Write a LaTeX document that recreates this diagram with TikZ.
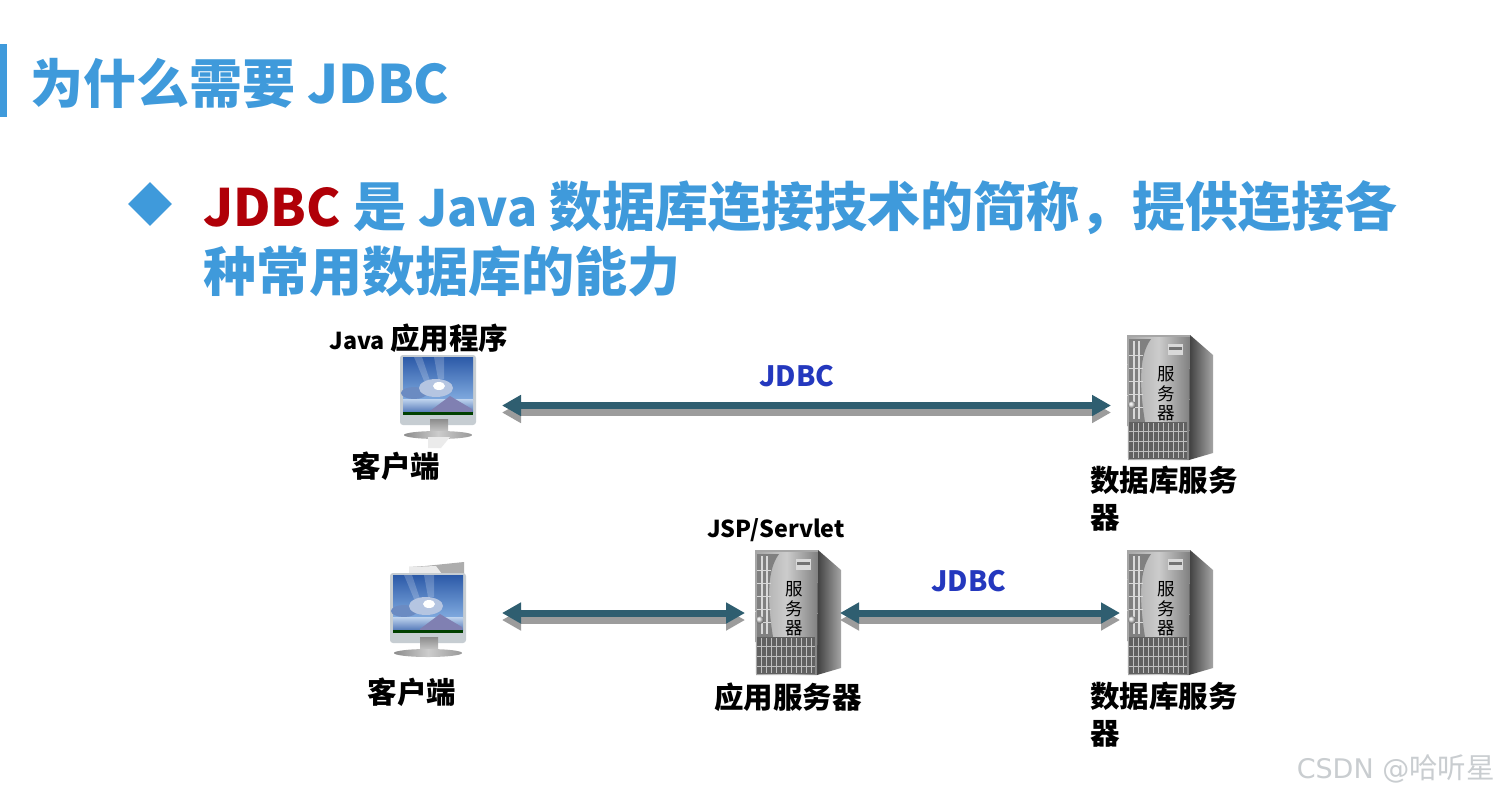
\documentclass[tikz,border=0pt]{standalone}
\usepackage{fontspec}
\setmainfont{Noto Sans CJK SC}
\newfontfamily\markfont{DejaVu Sans}
\usetikzlibrary{shapes.geometric, arrows.meta}
\definecolor{titleblue}{HTML}{3F9ADB}
\definecolor{jdbcred}{HTML}{B00008}
\definecolor{jdbcblue}{HTML}{2438BE}
\definecolor{arrowteal}{HTML}{2F5E70}
\definecolor{arrowgray}{HTML}{9C9C9C}
\definecolor{marksilver}{HTML}{C9CDD0}
\definecolor{skytop}{HTML}{2C5AA8}
\definecolor{skylow}{HTML}{7FA9DE}
\definecolor{framesilver}{HTML}{C6CDD2}
\newcommand{\bodylat}[2]{{\fontsize{#1}{65}\selectfont #2}}
\tikzstyle{title} = [anchor=west, inner sep=0, text=titleblue, font=\fontsize{53}{60}\selectfont\bfseries]
\tikzstyle{body} = [anchor=north west, inner sep=0, align=left, text=titleblue, font=\fontsize{53}{65}\selectfont\bfseries]
\tikzstyle{label} = [inner sep=0, text=black, font=\fontsize{29.5}{36.5}\selectfont\bfseries]
\tikzstyle{smalllabel} = [inner sep=0, text=black, font=\fontsize{23.3}{28}\selectfont\bfseries]
\tikzstyle{link} = [inner sep=0, text=jdbcblue, font=\fontsize{28}{34}\selectfont\bfseries]
\tikzstyle{device} = [rectangle, inner sep=0, outer sep=0]
\tikzstyle{arrow} = [line width=7pt, draw=arrowteal, {Triangle[length=19pt,width=20pt]}-{Triangle[length=19pt,width=20pt]}]
\tikzstyle{arrowshadow} = [line width=7pt, draw=arrowgray, {Triangle[length=19pt,width=20pt]}-{Triangle[length=19pt,width=20pt]}]
\tikzset{
  monitor/.pic={
    % origin is the top left corner of the frame
    \fill[rounded corners=3pt, framesilver] (0,0) rectangle (76,70);
    \shade[top color=black!45, bottom color=black!20] (30,64) rectangle (48,78);
    \shade[left color=black!45, right color=black!40, middle color=black!20] (4,80) arc (180:360:34 and 4) arc (0:180:34 and 4);
    \shade[top color=skytop, bottom color=skylow] (3,2) rectangle (73,44);
    \fill[white, opacity=.2] (14,2) -- (22,2) -- (30,26) -- (24,26) -- cycle;
    \fill[white, opacity=.2] (34,2) -- (44,2) -- (44,24) -- (38,24) -- cycle;
    \fill[skytop!70!white] (14,38) ellipse (13 and 6);
    \fill[skytop!35!white] (36,33) ellipse (17 and 9);
    \fill[white] (39,31) ellipse (6 and 4);
    \shade[top color=skylow!50!white, bottom color=skytop!80!white] (3,44) rectangle (73,57);
    \fill[black!60!blue!50] (30,56) -- (50,41) -- (72,54) -- (72,57) -- (30,57) -- cycle;
    \fill[black!75!green] (3,57) rectangle (73,60);
  },
  serverpic/.pic={
    % origin is the top left corner of the front
    \shade[left color=black!75, right color=black!35] (63,0) -- (86,20) -- (86,118) -- (62,125) -- cycle;
    \shade[left color=black!35, right color=black!50, middle color=black!20] (0,0) -- (63,0) -- (62,125) -- (1,125) -- cycle;
    \fill[black!35] (0,0) -- (63,0) -- (63,2) -- (0,2) -- cycle;
    \fill[black!50] (2,4) -- (24,4) .. controls (12,20) and (12,50) .. (18,87) -- (2,87) -- cycle;
    \fill[black!62] (2,87) -- (60,87) -- (60,124) -- (2,124) -- cycle;
    \foreach \gx in {6,11,...,56} {\draw[black!25, line width=1pt] (\gx,88) -- (\gx,123);}
    \foreach \gy in {96,106,116} {\draw[black!25, line width=1pt] (2,\gy) -- (60,\gy);}
    \foreach \gx in {7,12} {\draw[black!15, line width=1.4pt] (\gx,6) -- (\gx,84);}
    \foreach \gy in {20,33,...,72} {\draw[black!15, line width=1pt] (2,\gy) -- (16,\gy);}
    \fill[black!15] (41,9) rectangle (56,20);
    \fill[black!55] (42,12) rectangle (55,15);
    \shade[ball color=black!15] (5,70) circle (4);
    \node (tag) at (39,59) [inner sep=0, align=center, text=black, font=\fontsize{17.5}{19.5}\selectfont] {服\\务\\器};
  }
}
\begin{document}
\begin{tikzpicture}[x=1pt, y=-1pt]
\useasboundingbox (0,0) rectangle (1501,796);
\fill[white] (0,0) rectangle (1501,796);

\fill[titleblue] (0,44) rectangle (7,117);
\node (heading) [title] at (30,83) {为什么需要 JDBC};
\node (bullet) [diamond, fill=titleblue, inner sep=0, minimum width=44pt, minimum height=44pt] at (150,204) {};
\node (intro) [body] at (203,180.5) {\textcolor{jdbcred}{\bodylat{51.5}{JDBC}} 是 \bodylat{50}{Java} 数据库连接技术的简称，提供连接各\\种常用数据库的能力};

% upper row
\node (clientA) [device, minimum width=76pt, minimum height=94pt] at (438,405.5) {};
\node (dbA) [device, minimum width=86pt, minimum height=126pt] at (1170,405.5) {};
\pic at (400,355) {monitor};
\fill[black!8] (428,437) -- (450,437) -- (441,448) -- (428,448) -- cycle;
\pic (dbApic) at (1127,335) {serverpic};

\node (javaApp) [label] at (419,338) {\fontsize{23.3}{28}\selectfont Java {\fontsize{29.5}{36.5}\selectfont 应用程序}};
\node (clientAlabel) [label] at (396,466) {客户端};
\node (dbAlabel) [label, anchor=north west, align=left] at (1090,466) {数据库服务\\器};
\node (linkA) [link] at (797,376) {JDBC};

% lower row
\node (clientB) [device, minimum width=76pt, minimum height=92pt] at (427,613) {};
\node (appSrv) [device, minimum width=86pt, minimum height=126pt] at (798,613) {};
\node (dbB) [device, minimum width=86pt, minimum height=126pt] at (1170,613) {};
\fill[black!32] (409,567) -- (425,566) -- (464,562) -- (464,574) -- (409,574) -- cycle;
\fill[black!8] (409,567) -- (436,566) -- (442,574) -- (409,574) -- cycle;
\pic at (390,573) {monitor};
\pic (appSrvpic) at (755,550) {serverpic};
\pic (dbBpic) at (1127,550) {serverpic};

\node (clientBlabel) [label] at (412,692) {客户端};
\node (jsp) [smalllabel] at (776,530) {JSP/Servlet};
\node (appLabel) [label] at (788,697) {应用服务器};
\node (dbBlabel) [label, anchor=north west, align=left] at (1090,682) {数据库服务\\器};
\node (linkB) [link] at (969,581) {JDBC};

\node (mark) [anchor=east, inner sep=0, text=marksilver, font=\fontsize{28.5}{32}\selectfont] at (1495,769) {\markfont\fontsize{27}{32}\selectfont CSDN @\rmfamily\fontsize{28.5}{32}\selectfont 哈听星};

\draw [arrowshadow, shorten <=26pt, shorten >=16pt] ([shift={(0,7)}]clientA.east) -- ([shift={(0,7)}]dbA.west);
\draw [arrow, shorten <=26pt, shorten >=16pt] (clientA) -- (dbA.west);
\draw [arrowshadow, shorten <=37pt, shorten >=10pt] ([shift={(0,7)}]clientB.east) -- ([shift={(0,7)}]appSrv.west);
\draw [arrow, shorten <=37pt, shorten >=10pt] (clientB.east) -- (appSrv.west);
\draw [arrowshadow, shorten <=-1pt, shorten >=7pt] ([shift={(0,7)}]appSrv.east) -- ([shift={(0,7)}]dbB.west);
\draw [arrow, shorten <=-1pt, shorten >=7pt] (appSrv.east) -- (dbB.west);

\end{tikzpicture}
\end{document}
